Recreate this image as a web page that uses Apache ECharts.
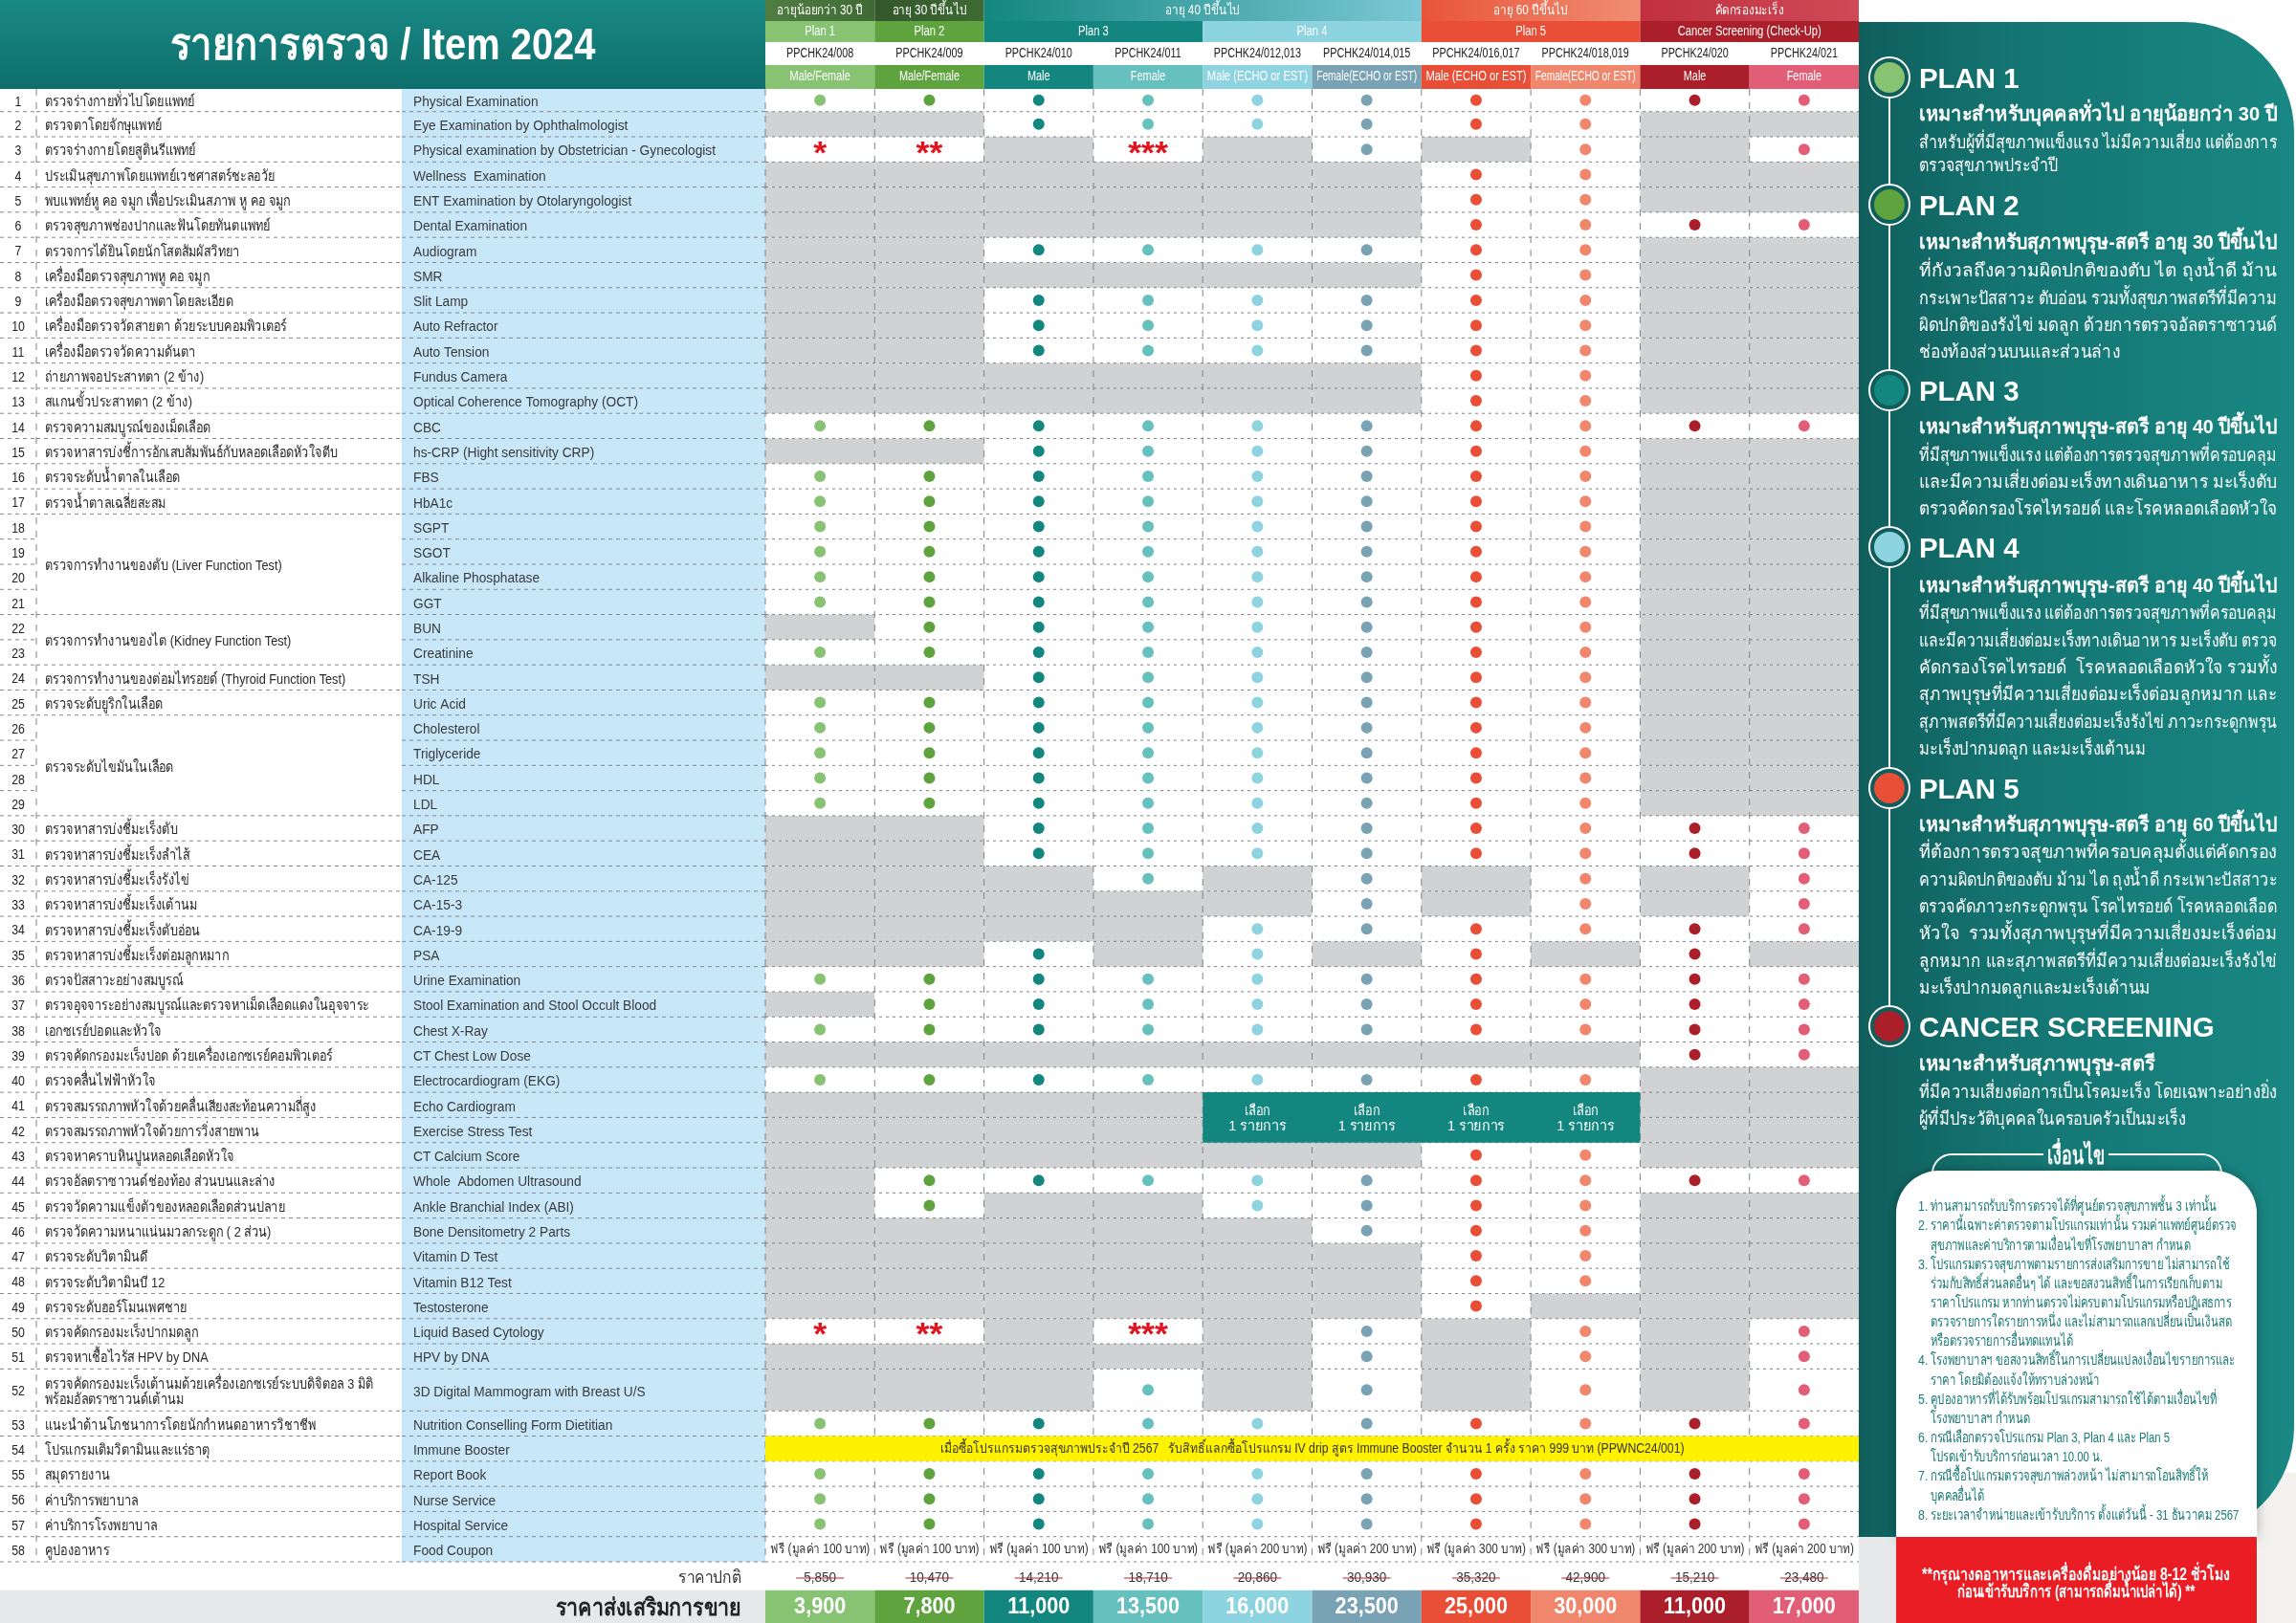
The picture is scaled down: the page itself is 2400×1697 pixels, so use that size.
<!DOCTYPE html>
<html>
<head>
<meta charset="utf-8">
<style>html,body{margin:0;padding:0;background:#fff}#main{width:2400px;height:1697px}</style>
<script src="https://cdn.jsdelivr.net/npm/echarts@6/dist/echarts.min.js"></script>
</head>
<body>
<div id="main"></div>
<script>
// ---- data ----
const itemsTh = ['ตรวจร่างกายทั่วไปโดยแพทย์','ตรวจตาโดยจักษุแพทย์','ตรวจร่างกายโดยสูตินรีแพทย์','ประเมินสุขภาพโดยแพทย์เวชศาสตร์ชะลอวัย','พบแพทย์หู คอ จมูก เพื่อประเมินสภาพ หู คอ จมูก','ตรวจสุขภาพช่องปากและฟันโดยทันตแพทย์','ตรวจการได้ยินโดยนักโสตสัมผัสวิทยา','เครื่องมือตรวจสุขภาพหู คอ จมูก','เครื่องมือตรวจสุขภาพตาโดยละเอียด','เครื่องมือตรวจวัดสายตา ด้วยระบบคอมพิวเตอร์','เครื่องมือตรวจวัดความดันตา','ถ่ายภาพจอประสาทตา (2 ข้าง)','สแกนขั้วประสาทตา (2 ข้าง)','ตรวจความสมบูรณ์ของเม็ดเลือด','ตรวจหาสารบ่งชี้การอักเสบสัมพันธ์กับหลอดเลือดหัวใจตีบ','ตรวจระดับน้ำตาลในเลือด','ตรวจน้ำตาลเฉลี่ยสะสม','','','','','','','ตรวจการทำงานของต่อมไทรอยด์ (Thyroid Function Test)','ตรวจระดับยูริกในเลือด','','','','','ตรวจหาสารบ่งชี้มะเร็งตับ','ตรวจหาสารบ่งชี้มะเร็งลำไส้','ตรวจหาสารบ่งชี้มะเร็งรังไข่','ตรวจหาสารบ่งชี้มะเร็งเต้านม','ตรวจหาสารบ่งชี้มะเร็งตับอ่อน','ตรวจหาสารบ่งชี้มะเร็งต่อมลูกหมาก','ตรวจปัสสาวะอย่างสมบูรณ์','ตรวจอุจจาระอย่างสมบูรณ์และตรวจหาเม็ดเลือดแดงในอุจจาระ','เอกซเรย์ปอดและหัวใจ','ตรวจคัดกรองมะเร็งปอด ด้วยเครื่องเอกซเรย์คอมพิวเตอร์','ตรวจคลื่นไฟฟ้าหัวใจ','ตรวจสมรรถภาพหัวใจด้วยคลื่นเสียงสะท้อนความถี่สูง','ตรวจสมรรถภาพหัวใจด้วยการวิ่งสายพาน','ตรวจหาคราบหินปูนหลอดเลือดหัวใจ','ตรวจอัลตราซาวนด์ช่องท้อง ส่วนบนและล่าง','ตรวจวัดความแข็งตัวของหลอดเลือดส่วนปลาย','ตรวจวัดความหนาแน่นมวลกระดูก ( 2 ส่วน)','ตรวจระดับวิตามินดี','ตรวจระดับวิตามินบี 12','ตรวจระดับฮอร์โมนเพศชาย','ตรวจคัดกรองมะเร็งปากมดลูก','ตรวจหาเชื้อไวรัส HPV by DNA','ตรวจคัดกรองมะเร็งเต้านมด้วยเครื่องเอกซเรย์ระบบดิจิตอล 3 มิติ\nพร้อมอัลตราซาวนด์เต้านม','แนะนำด้านโภชนาการโดยนักกำหนดอาหารวิชาชีพ','โปรแกรมเติมวิตามินและแร่ธาตุ','สมุดรายงาน','ค่าบริการพยาบาล','ค่าบริการโรงพยาบาล','คูปองอาหาร'];
const mergedTh = [[18,21,'ตรวจการทำงานของตับ (Liver Function Test)'],[22,23,'ตรวจการทำงานของไต (Kidney Function Test)'],[26,29,'ตรวจระดับไขมันในเลือด']];
const itemsEn = ['Physical Examination','Eye Examination by Ophthalmologist','Physical examination by Obstetrician - Gynecologist','Wellness  Examination','ENT Examination by Otolaryngologist','Dental Examination','Audiogram','SMR','Slit Lamp','Auto Refractor','Auto Tension','Fundus Camera','Optical Coherence Tomography (OCT)','CBC','hs-CRP (Hight sensitivity CRP)','FBS','HbA1c','SGPT','SGOT','Alkaline Phosphatase','GGT','BUN','Creatinine','TSH','Uric Acid','Cholesterol','Triglyceride','HDL','LDL','AFP','CEA','CA-125','CA-15-3','CA-19-9','PSA','Urine Examination','Stool Examination and Stool Occult Blood','Chest X-Ray','CT Chest Low Dose','Electrocardiogram (EKG)','Echo Cardiogram','Exercise Stress Test','CT Calcium Score','Whole  Abdomen Ultrasound','Ankle Branchial Index (ABI)','Bone Densitometry 2 Parts','Vitamin D Test','Vitamin B12 Test','Testosterone','Liquid Based Cytology','HPV by DNA','3D Digital Mammogram with Breast U/S','Nutrition Conselling Form Dietitian','Immune Booster','Report Book','Nurse Service','Hospital Service','Food Coupon'];
// one string per row, one char per plan column: o dot, x not included, 1/2/3 stars, - empty white
const rowMarks = ['oooooooooo','xxooooooxx','12x3xoxoxo','xxxxxxooxx','xxxxxxooxx','xxxxxxoooo','xxooooooxx','xxxxxxooxx','xxooooooxx','xxooooooxx','xxooooooxx','xxxxxxooxx','xxxxxxooxx','oooooooooo','xxooooooxx','ooooooooxx','ooooooooxx','ooooooooxx','ooooooooxx','ooooooooxx','ooooooooxx','xoooooooxx','ooooooooxx','xxooooooxx','ooooooooxx','ooooooooxx','ooooooooxx','ooooooooxx','ooooooooxx','xxoooooooo','xxoooooooo','xxxoxoxoxo','xxxxxoxoxo','xxxxoooooo','xxoxoxoxox','oooooooooo','xooooooooo','oooooooooo','xxxxxxxxoo','ooooooooxx','xxxx----xx','xxxx----xx','xxxxxxooxx','xooooooooo','xoxxooooxx','xxxxxoooxx','xxxxxxooxx','xxxxxxooxx','xxxxxxoxxx','12x3xoxoxo','xxxxxoxoxo','xxxoxoxoxo','oooooooooo','----------','oooooooooo','oooooooooo','oooooooooo','----------'];
const planCodes = ['PPCHK24/008','PPCHK24/009','PPCHK24/010','PPCHK24/011','PPCHK24/012,013','PPCHK24/014,015','PPCHK24/016,017','PPCHK24/018,019','PPCHK24/020','PPCHK24/021'];
const genders = ['Male/Female','Male/Female','Male','Female','Male (ECHO or EST)','Female(ECHO or EST)','Male (ECHO or EST)','Female(ECHO or EST)','Male','Female'];
const ageLabels = ['อายุน้อยกว่า 30 ปี','อายุ 30 ปีขึ้นไป','อายุ 40 ปีขึ้นไป','อายุ 60 ปีขึ้นไป','คัดกรองมะเร็ง'];
const ageStarts = [0,1,2,6,8,10];
const planLabels = ['Plan 1','Plan 2','Plan 3','Plan 4','Plan 5','Cancer Screening (Check-Up)'];
const planStarts = [0,1,2,4,6,8,10];
const freeValues = [100,100,100,100,200,200,300,300,200,200];
const regularPrices = ['5,850','10,470','14,210','18,710','20,860','30,930','35,320','42,900','15,210','23,480'];
const promoPrices = ['3,900','7,800','11,000','13,500','16,000','23,500','25,000','30,000','11,000','17,000'];
const immuneNote = 'เมื่อซื้อโปรแกรมตรวจสุขภาพประจำปี 2567   รับสิทธิ์แลกซื้อโปรแกรม IV drip สูตร Immune Booster จำนวน 1 ครั้ง ราคา 999 บาท (PPWNC24/001)';
const panelTitles = ['PLAN 1','PLAN 2','PLAN 3','PLAN 4','PLAN 5','CANCER SCREENING'];
const panelSubs = ['เหมาะสำหรับบุคคลทั่วไป อายุน้อยกว่า 30 ปี','เหมาะสำหรับสุภาพบุรุษ-สตรี อายุ 30 ปีขึ้นไป','เหมาะสำหรับสุภาพบุรุษ-สตรี อายุ 40 ปีขึ้นไป','เหมาะสำหรับสุภาพบุรุษ-สตรี อายุ 40 ปีขึ้นไป','เหมาะสำหรับสุภาพบุรุษ-สตรี อายุ 60 ปีขึ้นไป','เหมาะสำหรับสุภาพบุรุษ-สตรี'];
const panelBodies = [
  ['สำหรับผู้ที่มีสุขภาพแข็งแรง ไม่มีความเสี่ยง แต่ต้องการ','ตรวจสุขภาพประจำปี'],
  ['ที่กังวลถึงความผิดปกติของตับ ไต ถุงน้ำดี ม้าน','กระเพาะปัสสาวะ ตับอ่อน รวมทั้งสุขภาพสตรีที่มีความ','ผิดปกติของรังไข่ มดลูก ด้วยการตรวจอัลตราซาวนด์','ช่องท้องส่วนบนและส่วนล่าง'],
  ['ที่มีสุขภาพแข็งแรง แต่ต้องการตรวจสุขภาพที่ครอบคลุม','และมีความเสี่ยงต่อมะเร็งทางเดินอาหาร มะเร็งตับ','ตรวจคัดกรองโรคไทรอยด์ และโรคหลอดเลือดหัวใจ'],
  ['ที่มีสุขภาพแข็งแรง แต่ต้องการตรวจสุขภาพที่ครอบคลุม','และมีความเสี่ยงต่อมะเร็งทางเดินอาหาร มะเร็งตับ ตรวจ','คัดกรองโรคไทรอยด์  โรคหลอดเลือดหัวใจ รวมทั้ง','สุภาพบุรุษที่มีความเสี่ยงต่อมะเร็งต่อมลูกหมาก และ','สุภาพสตรีที่มีความเสี่ยงต่อมะเร็งรังไข่ ภาวะกระดูกพรุน','มะเร็งปากมดลูก และมะเร็งเต้านม'],
  ['ที่ต้องการตรวจสุขภาพที่ครอบคลุมตั้งแต่คัดกรอง','ความผิดปกติของตับ ม้าม ไต ถุงน้ำดี กระเพาะปัสสาวะ','ตรวจคัดภาวะกระดูกพรุน โรคไทรอยด์ โรคหลอดเลือด','หัวใจ  รวมทั้งสุภาพบุรุษที่มีความเสี่ยงมะเร็งต่อม','ลูกหมาก และสุภาพสตรีที่มีความเสี่ยงต่อมะเร็งรังไข่','มะเร็งปากมดลูกและมะเร็งเต้านม'],
  ['ที่มีความเสี่ยงต่อการเป็นโรคมะเร็ง โดยเฉพาะอย่างยิ่ง','ผู้ที่มีประวัติบุคคลในครอบครัวเป็นมะเร็ง']
];
const conditionNumbers = ['1.','2.','','3.','','','','','4.','','5.','','6.','','7.','','8.'];
const conditionLines = ['ท่านสามารถรับบริการตรวจได้ที่ศูนย์ตรวจสุขภาพชั้น 3 เท่านั้น','ราคานี้เฉพาะค่าตรวจตามโปรแกรมเท่านั้น รวมค่าแพทย์ศูนย์ตรวจ','สุขภาพและค่าบริการตามเงื่อนไขที่โรงพยาบาลฯ กำหนด','โปรแกรมตรวจสุขภาพตามรายการส่งเสริมการขาย ไม่สามารถใช้','ร่วมกับสิทธิ์ส่วนลดอื่นๆ ได้ และขอสงวนสิทธิ์ในการเรียกเก็บตาม','ราคาโปรแกรม หากท่านตรวจไม่ครบตามโปรแกรมหรือปฏิเสธการ','ตรวจรายการใดรายการหนึ่ง และไม่สามารถแลกเปลี่ยนเป็นเงินสด','หรือตรวจรายการอื่นทดแทนได้','โรงพยาบาลฯ ขอสงวนสิทธิ์ในการเปลี่ยนแปลงเงื่อนไขรายการและ','ราคา โดยมิต้องแจ้งให้ทราบล่วงหน้า','คูปองอาหารที่ได้รับพร้อมโปรแกรมสามารถใช้ได้ตามเงื่อนไขที่','โรงพยาบาลฯ กำหนด','กรณีเลือกตรวจโปรแกรม Plan 3, Plan 4 และ Plan 5','โปรดเข้ารับบริการก่อนเวลา 10.00 น.','กรณีซื้อโปแกรมตรวจสุขภาพล่วงหน้า ไม่สามารถโอนสิทธิ์ให้','บุคคลอื่นได้','ระยะเวลาจำหน่ายและเข้ารับบริการ ตั้งแต่วันนี้ - 31 ธันวาคม 2567'];

// ---- styles and layout ----
const planColors = ['#88C273','#5FA33F','#13877F','#66C0BE','#8DD4E0','#7AA2B5','#E94E36','#F0866C','#AB1F2A','#E15E76'];
const ageColors = [['#4F7D42','#3F6A35'],['#33562B','#3E6B33'],['#13877F','#7CC8D6'],['#E9543A','#F08E72'],['#C1303F','#CE4A56']];
const planBand = ['#88C273','#5FA33F','#13877F','#8DD4E0','#E94E36','#AB1F2A'];
const panelDots = ['#88C273','#5FA33F','#13877F','#8DD4E0','#E94E36','#AB1F2A'];
const panelNodeY = [81,214,408,572,824,1073];
const panelSubY = [118,252,445,611,861,1111];
const panelBodyY = [148,282,475,640,890,1141];
const panelPitch = [24,28.4,28,28.4,28.4,28];
const FONT = '"Liberation Sans","Noto Sans",sans-serif';
const rowSpans = rowMarks.map((m, i) => (i === 0 ? 0.902 : i === 51 ? 1.67 : 1));
const rowTop = [0];
rowSpans.forEach((s, i) => rowTop.push(rowTop[i] + s));
const ROWS_MAX = rowTop[rowTop.length - 1];
const GRAY = '#D0D2D3';
const measure = document.createElement('canvas').getContext('2d');

function textWidth(text, font) {
  measure.font = font;
  return measure.measureText(text).width;
}
// width squeezes the text to a target width, sx applies a ready scale
function label(x, y, text, font, fill, align, opt) {
  opt = opt || {};
  const sx = opt.width ? opt.width / textWidth(text, font) : (opt.sx || 1);
  return {
    type: 'text', x: x, y: y, scaleX: sx, silent: true, z: opt.z,
    style: { x: 0, y: 0, text: text, font: font, fill: fill, align: align || 'left', verticalAlign: 'middle', textAlign: align || 'left', textVerticalAlign: 'middle' }
  };
}
function dashed(p1, p2, color, dash) {
  return { type: 'line', silent: true, shape: { x1: p1[0], y1: p1[1], x2: p2[0], y2: p2[1] }, style: { stroke: color || '#85888a', lineWidth: 1, lineDash: dash || [4, 4] } };
}
function custom(gridIndex, z, draw) {
  return { type: 'custom', xAxisIndex: gridIndex, yAxisIndex: gridIndex, coordinateSystem: 'cartesian2d', silent: true, clip: false, z: z, data: [[0, 0]],
    renderItem: (params, api) => ({ type: 'group', children: draw(api) }) };
}

const BODY = 0, HEAD = 1, FOOT = 2, LEFT = 3;
const series = [];

// gray "not included" cells
series.push({
  type: 'custom', xAxisIndex: BODY, yAxisIndex: BODY, silent: true, clip: false, z: 1,
  data: rowMarks.flatMap((m, r) => m.split('').map((k, c) => (k === 'x' ? [c, r] : null)).filter(Boolean)),
  renderItem: (params, api) => {
    const c = api.value(0), r = api.value(1);
    const a = api.coord([c, rowTop[r]]), b = api.coord([c + 1, rowTop[r + 1]]);
    return { type: 'rect', shape: { x: a[0], y: a[1], width: b[0] - a[0], height: b[1] - a[1] }, style: { fill: GRAY } };
  }
});
// dashed rules over the plan columns
series.push(custom(BODY, 2, api => {
  const out = [];
  rowTop.slice(1).forEach(t => out.push(dashed(api.coord([0, t]), api.coord([10, t]), '#7f8284', [3, 4])));
  for (let c = 0; c < 10; c++) {
    out.push(dashed(api.coord([c, 0]), api.coord([c, ROWS_MAX]), '#7f8284', [7, 7]));
  }
  return out;
}));
// "choose 1" block, yellow note and free coupon row
series.push(custom(BODY, 3, api => {
  const out = [];
  const a = api.coord([4, rowTop[40]]), b = api.coord([8, rowTop[42]]);
  out.push({ type: 'rect', shape: { x: a[0], y: a[1], width: b[0] - a[0], height: b[1] - a[1] }, style: { fill: '#13877F' } });
  for (let c = 4; c < 8; c++) {
    const m = api.coord([c + 0.5, rowTop[41]]);
    out.push(label(m[0], m[1] - 7, 'เลือก', '15px ' + FONT, '#fff', 'center', { sx: 0.85 }));
    out.push(label(m[0], m[1] + 9, '1 รายการ', '15px ' + FONT, '#fff', 'center', { width: 60 }));
  }
  const ya = api.coord([0, rowTop[53]]), yb = api.coord([10, rowTop[54]]);
  out.push({ type: 'rect', shape: { x: ya[0], y: ya[1], width: yb[0] - ya[0], height: yb[1] - ya[1] }, style: { fill: '#FFF200' } });
  const ym = api.coord([5, rowTop[53] + 0.5]);
  out.push(label(ym[0], ym[1], immuneNote, '14px ' + FONT, '#333', 'center', { width: 778 }));
  freeValues.forEach((v, c) => {
    const m = api.coord([c + 0.5, rowTop[57] + 0.5]);
    out.push(label(m[0], m[1], 'ฟรี (มูลค่า ' + v + ' บาท)', '14px ' + FONT, '#333', 'center', { width: 104 }));
  });
  return out;
}));
// one scatter series per plan column
planColors.forEach((color, c) => {
  series.push({
    type: 'scatter', name: planCodes[c], xAxisIndex: BODY, yAxisIndex: BODY, silent: true, z: 4,
    symbol: 'circle', symbolSize: 12, itemStyle: { color: color, opacity: 1 },
    data: rowMarks.map((m, r) => (m[c] === 'o' ? [c + 0.5, (rowTop[r] + rowTop[r + 1]) / 2] : null)).filter(Boolean)
  });
});
// red stars for the obstetric options
series.push({
  type: 'custom', xAxisIndex: BODY, yAxisIndex: BODY, silent: true, clip: false, z: 4,
  data: rowMarks.flatMap((m, r) => m.split('').map((k, c) => (/[123]/.test(k) ? [c, r, +k] : null)).filter(Boolean)),
  renderItem: (params, api) => {
    const p = api.coord([api.value(0) + 0.5, rowTop[api.value(1)] + 0.5]);
    return label(p[0], p[1] + 5, '*'.repeat(api.value(2)), 'bold 34px ' + FONT, '#E0141E', 'center', { sx: 1.05 });
  }
});

// header bands
series.push(custom(HEAD, 10, api => {
  const out = [];
  const band = (c0, c1, y0, y1, fill) => {
    const a = api.coord([c0, y0]), b = api.coord([c1, y1]);
    out.push({ type: 'rect', shape: { x: a[0], y: a[1], width: b[0] - a[0], height: b[1] - a[1] }, style: { fill: fill } });
  };
  const text = (x, y, t, font, color, opt) => { const p = api.coord([x, y]); out.push(label(p[0], p[1], t, font, color, 'center', opt)); };
  ageLabels.forEach((t, i) => {
    band(ageStarts[i], ageStarts[i + 1], 0, 22, new echarts.graphic.LinearGradient(0, 0, 1, 0, [{ offset: 0, color: ageColors[i][0] }, { offset: 1, color: ageColors[i][1] }]));
    text((ageStarts[i] + ageStarts[i + 1]) / 2, 11.5, t, '14px ' + FONT, '#fff', { sx: 0.84 });
  });
  planLabels.forEach((t, i) => {
    band(planStarts[i], planStarts[i + 1], 22, 44, planBand[i]);
    text((planStarts[i] + planStarts[i + 1]) / 2, 33, t, '14px ' + FONT, '#fff', { sx: 0.8 });
  });
  band(0, 10, 44, 68, '#fff');
  planCodes.forEach((t, c) => text(c + 0.5, 56, t, '15px ' + FONT, '#222', { sx: 0.72 }));
  genders.forEach((t, c) => {
    band(c, c + 1, 68, 93, planColors[c]);
    text(c + 0.5, 80.5, t, '14px ' + FONT, '#fff', t.indexOf('ECHO') > 0 ? { width: 105 } : { sx: 0.78 });
  });
  return out;
}));

// regular and promotional prices
series.push(custom(FOOT, 5, api => {
  const out = [];
  regularPrices.forEach((t, c) => {
    const p = api.coord([c + 0.5, 17]);
    out.push(label(p[0], p[1], t, '15px ' + FONT, '#333', 'center', { sx: 0.9 }));
    out.push({ type: 'line', silent: true, shape: { x1: p[0] - 25, y1: p[1], x2: p[0] + 25, y2: p[1] }, style: { stroke: '#B8252F', lineWidth: 1.2 } });
    const a = api.coord([c, 29.7]), b = api.coord([c + 1, 64]);
    out.push({ type: 'rect', shape: { x: a[0], y: a[1], width: b[0] - a[0], height: b[1] - a[1] }, style: { fill: planColors[c] } });
    const m = api.coord([c + 0.5, 47]);
    out.push(label(m[0], m[1], promoPrices[c], 'bold 24px ' + FONT, '#fff', 'center', { sx: 0.9 }));
  });
  return out;
}));

// left columns: number, thai name, english name
const TH_FONT = '15.5px ' + FONT, EN_FONT = '15.5px ' + FONT;
const thSx = 339 / textWidth(itemsTh[36], TH_FONT);
const enSx = 316 / textWidth(itemsEn[2], EN_FONT);
series.push(custom(LEFT, 1, api => {
  const out = [];
  const a = api.coord([420, 0]), b = api.coord([800, ROWS_MAX]);
  out.push({ type: 'rect', shape: { x: a[0], y: a[1], width: b[0] - a[0], height: b[1] - a[1] }, style: { fill: '#C8E8FA' } });
  const merged = r => mergedTh.some(m => r + 1 >= m[0] && r + 1 < m[1]);
  rowSpans.forEach((s, r) => {
    const y = api.coord([0, (rowTop[r] + rowTop[r + 1]) / 2])[1] + 2;
    out.push(label(19, y, String(r + 1), '15px ' + FONT, '#222', 'center', { sx: 0.82 }));
    if (itemsTh[r]) {
      itemsTh[r].split('\n').forEach((t, i, all) => out.push(label(47, y + (i - (all.length - 1) / 2) * 16, t, TH_FONT, '#2a2a2a', 'left', { sx: thSx })));
    }
    out.push(label(432, y, itemsEn[r], EN_FONT, '#3a3a3a', 'left', { sx: enSx }));
    const t = rowTop[r + 1];
    out.push(dashed(api.coord([0, t]), api.coord([38, t])));
    if (!merged(r)) out.push(dashed(api.coord([38, t]), api.coord([420, t])));
    out.push(dashed(api.coord([420, t]), api.coord([800, t])));
  });
  mergedTh.forEach(m => {
    const y = api.coord([0, (rowTop[m[0] - 1] + rowTop[m[1]]) / 2])[1] + 2;
    out.push(label(47, y, m[2], TH_FONT, '#2a2a2a', 'left', { sx: thSx }));
  });
  out.push(dashed(api.coord([38, 0]), api.coord([38, ROWS_MAX]), '#7f8284', [7, 7]));
  return out;
}));

// page furniture: title, footer labels and right panel
const graphic = [];
graphic.push({ type: 'rect', z: 20, silent: true, shape: { x: 0, y: 0, width: 800, height: 93 }, style: { fill: new echarts.graphic.LinearGradient(0, 0, 0, 1, [{ offset: 0, color: '#198984' }, { offset: 1, color: '#0E6E6B' }]) } });
graphic.push(label(400, 49, 'รายการตรวจ / Item 2024', 'bold 46px ' + FONT, '#fff', 'center', { width: 445, z: 21 }));
graphic.push({ type: 'rect', z: 1, silent: true, shape: { x: 0, y: 1662.7, width: 800, height: 35 }, style: { fill: '#E7E8E9' } });
graphic.push(label(775, 1650, 'ราคาปกติ', '18px ' + FONT, '#333', 'right', { width: 66, z: 21 }));
graphic.push(label(775, 1682, 'ราคาส่งเสริมการขาย', 'bold 25px ' + FONT, '#222', 'right', { width: 194, z: 21 }));

// right panel
graphic.push({ type: 'rect', z: 30, silent: true, shape: { x: 2360, y: 1540, width: 40, height: 157 }, style: { fill: '#F2F1EE' } });
graphic.push({ type: 'rect', z: 30, silent: true, shape: { x: 1943, y: 1607, width: 40, height: 90 }, style: { fill: '#E7E8E9' } });
graphic.push({ type: 'rect', z: 31, silent: true, shape: { x: 1943, y: 23, width: 455, height: 1584, r: [0, 115, 115, 0] }, style: { fill: new echarts.graphic.LinearGradient(0, 0, 1, 0, [{ offset: 0, color: '#0F5E5C' }, { offset: 0.35, color: '#147572' }, { offset: 1, color: '#198783' }]) } });
graphic.push({ type: 'line', z: 32, silent: true, shape: { x1: 1975, y1: panelNodeY[0], x2: 1975, y2: panelNodeY[5] }, style: { stroke: '#fff', lineWidth: 2 } });
const TXT = 2006, TXT_W = 374;
const BODY_FONT = '19px ' + FONT;
panelTitles.forEach((title, i) => {
  const y = panelNodeY[i];
  graphic.push({ type: 'circle', z: 33, silent: true, shape: { cx: 1975, cy: y, r: 21 }, style: { fill: '#0F5E5C', stroke: '#fff', lineWidth: 2 } });
  graphic.push({ type: 'circle', z: 34, silent: true, shape: { cx: 1975, cy: y, r: 16 }, style: { fill: panelDots[i] } });
  graphic.push(label(TXT, y + 3, title, 'bold 30px ' + FONT, '#fff', 'left', { sx: 0.98, z: 34 }));
  graphic.push(label(TXT, panelSubY[i] + 2, panelSubs[i], 'bold 21px ' + FONT, '#fff', 'left', { width: i < 5 ? TXT_W : 247, z: 34 }));
  const body = panelBodies[i];
  const full = body.slice(0, Math.max(1, body.length - 1));
  const mean = full.reduce((sum, t) => sum + TXT_W / textWidth(t, BODY_FONT), 0) / full.length;
  body.forEach((t, j) => {
    const last = j === body.length - 1 && i !== 2;
    graphic.push(label(TXT, panelBodyY[i] + j * panelPitch[i] + 2, t, BODY_FONT, '#fff', 'left', last ? { sx: mean, z: 34 } : { width: TXT_W, z: 34 }));
  });
});
// conditions card
graphic.push({ type: 'rect', z: 32, silent: true, shape: { x: 2020, y: 1207, width: 302, height: 50, r: 20 }, style: { fill: 'none', stroke: '#fff', lineWidth: 2 } });
graphic.push({ type: 'rect', z: 33, silent: true, shape: { x: 2136, y: 1195, width: 68, height: 24 }, style: { fill: '#147A76' } });
graphic.push(label(2170, 1210, 'เงื่อนไข', 'bold 26px ' + FONT, '#fff', 'center', { width: 60, z: 34 }));
graphic.push({ type: 'rect', z: 35, silent: true, shape: { x: 1982, y: 1224, width: 377, height: 383, r: [45, 45, 0, 0] }, style: { fill: '#fff', shadowBlur: 12, shadowColor: 'rgba(0,0,0,0.3)' } });
const COND_FONT = '15.5px ' + FONT;
const condSx = 320 / textWidth(conditionLines[1], COND_FONT);
conditionLines.forEach((t, i) => {
  const y = 1262 + i * 20.15;
  if (conditionNumbers[i]) graphic.push(label(2005, y, conditionNumbers[i], COND_FONT, '#1B7C77', 'left', { sx: 0.8, z: 36 }));
  graphic.push(label(2018, y, t, COND_FONT, '#1B7C77', 'left', { sx: condSx, z: 36 }));
});
graphic.push({ type: 'rect', z: 36, silent: true, shape: { x: 1982, y: 1607, width: 377, height: 90 }, style: { fill: '#EA1C24' } });
graphic.push(label(2170, 1647, '**กรุณางดอาหารและเครื่องดื่มอย่างน้อย 8-12 ชั่วโมง', 'bold 18px ' + FONT, '#fff', 'center', { width: 322, z: 37 }));
graphic.push(label(2170, 1665, 'ก่อนเข้ารับบริการ (สามารถดื่มน้ำเปล่าได้) **', 'bold 18px ' + FONT, '#fff', 'center', { width: 249, z: 37 }));

const hiddenX = (grid, min, max) => ({ type: 'value', gridIndex: grid, min: min, max: max, show: false });
const hiddenY = (grid, min, max) => ({ type: 'value', gridIndex: grid, min: min, max: max, inverse: true, show: false });

const chart = echarts.init(document.getElementById('main'), null, { renderer: 'canvas' });
chart.setOption({
  animation: false,
  backgroundColor: '#fff',
  grid: [
    { left: 800, top: 93, width: 1143, height: 1540 },
    { left: 800, top: 0, width: 1143, height: 93 },
    { left: 800, top: 1633, width: 1143, height: 64 },
    { left: 0, top: 93, width: 800, height: 1540 }
  ],
  xAxis: [hiddenX(BODY, 0, 10), hiddenX(HEAD, 0, 10), hiddenX(FOOT, 0, 10), hiddenX(LEFT, 0, 800)],
  yAxis: [hiddenY(BODY, 0, ROWS_MAX), hiddenY(HEAD, 0, 93), hiddenY(FOOT, 0, 64), hiddenY(LEFT, 0, ROWS_MAX)],
  series: series,
  graphic: { elements: graphic }
});
</script>
</body>
</html>
